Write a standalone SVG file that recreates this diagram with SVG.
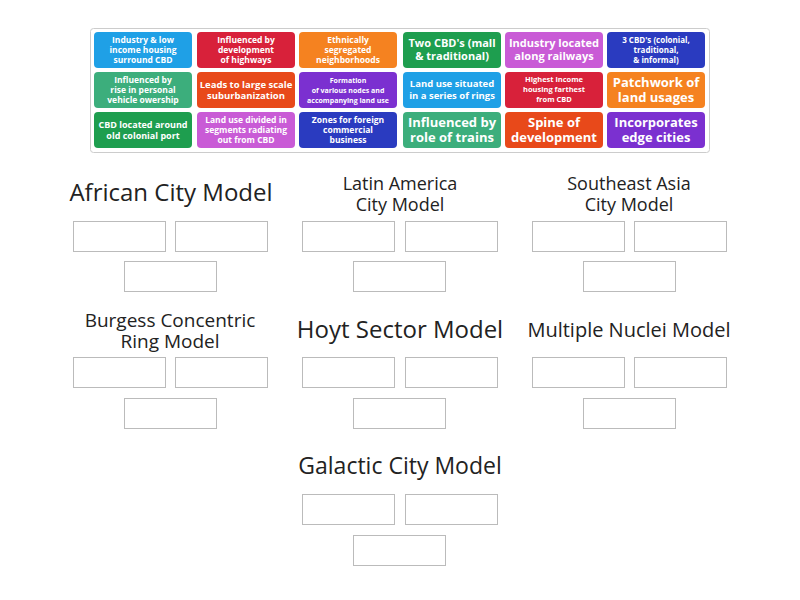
<svg xmlns="http://www.w3.org/2000/svg" width="800" height="600" viewBox="0 0 800 600">
<style>
.t rect{rx:4}
.t text{font-family:"Open Sans","Noto Sans",sans-serif;font-weight:bold;fill:#fff;text-anchor:middle}
.h{font-family:"Open Sans","Noto Sans",sans-serif;fill:#222;text-anchor:middle}
.z{fill:#fff;stroke:#bbb;stroke-width:1}
</style>
<rect width="800" height="600" fill="#fff"/>
<rect x="90.5" y="28.5" width="619" height="124" rx="3" fill="#fff" stroke="#ccc"/>
<g class="t">
<g id="t1"><rect x="94" y="32" width="98" height="36" fill="#1fa0e6"/><text font-size="8.5" x="143" y="43">Industry &amp; low</text><text font-size="8.5" x="143" y="53">income housing</text><text font-size="8.5" x="143" y="63">surround CBD</text></g>
<g id="t2"><rect x="197" y="32" width="98" height="36" fill="#d8213a"/><text font-size="8.5" x="246" y="43">Influenced by</text><text font-size="8.5" x="246" y="53">development</text><text font-size="8.5" x="246" y="63">of highways</text></g>
<g id="t3"><rect x="299" y="32" width="98" height="36" fill="#f58220"/><text font-size="8.5" x="348" y="43">Ethnically</text><text font-size="8.5" x="348" y="53">segregated</text><text font-size="8.5" x="348" y="63">neighborhoods</text></g>
<g id="t4"><rect x="403" y="32" width="98" height="36" fill="#1e9e4f"/><text font-size="11" x="452" y="47">Two CBD's (mall</text><text font-size="11" x="452" y="60">&amp; traditional)</text></g>
<g id="t5"><rect x="505" y="32" width="98" height="36" fill="#c95bd6"/><text font-size="11" x="554" y="47">Industry located</text><text font-size="11" x="554" y="60">along railways</text></g>
<g id="t6"><rect x="607" y="32" width="98" height="36" fill="#2a3bc0"/><text font-size="8" x="656" y="43">3 CBD's (colonial,</text><text font-size="8" x="656" y="53">traditional,</text><text font-size="8" x="656" y="63">&amp; informal)</text></g>
<g id="t7"><rect x="94" y="72" width="98" height="36" fill="#3cae7c"/><text font-size="8.5" x="143" y="83">Influenced by</text><text font-size="8.5" x="143" y="93">rise in personal</text><text font-size="8.5" x="143" y="103">vehicle owership</text></g>
<g id="t8"><rect x="197" y="72" width="98" height="36" fill="#e8491a"/><text font-size="9.5" x="246" y="88">Leads to large scale</text><text font-size="9.5" x="246" y="99">suburbanization</text></g>
<g id="t9"><rect x="299" y="72" width="98" height="36" fill="#7b30d0"/><text font-size="7" x="348" y="83">Formation</text><text font-size="7" x="348" y="93">of various nodes and</text><text font-size="7" x="348" y="103">accompanying land use</text></g>
<g id="t10"><rect x="403" y="72" width="98" height="36" fill="#1fa0e6"/><text font-size="9.5" x="452" y="87">Land use situated</text><text font-size="9.5" x="452" y="99">in a series of rings</text></g>
<g id="t11"><rect x="505" y="72" width="98" height="36" fill="#d8213a"/><text font-size="7.5" x="554" y="82">Highest income</text><text font-size="7.5" x="554" y="92">housing farthest</text><text font-size="7.5" x="554" y="102">from CBD</text></g>
<g id="t12"><rect x="607" y="72" width="98" height="36" fill="#f58220"/><text font-size="13" x="656" y="87">Patchwork of</text><text font-size="13" x="656" y="102">land usages</text></g>
<g id="t13"><rect x="94" y="112" width="98" height="36" fill="#1e9e4f"/><text font-size="9" x="143" y="128">CBD located around</text><text font-size="9" x="143" y="139">old colonial port</text></g>
<g id="t14"><rect x="197" y="112" width="98" height="36" fill="#c95bd6"/><text font-size="8.5" x="246" y="123">Land use divided in</text><text font-size="8.5" x="246" y="133">segments radiating</text><text font-size="8.5" x="246" y="143">out from CBD</text></g>
<g id="t15"><rect x="299" y="112" width="98" height="36" fill="#2a3bc0"/><text font-size="8.5" x="348" y="123">Zones for foreign</text><text font-size="8.5" x="348" y="133">commercial</text><text font-size="8.5" x="348" y="143">business</text></g>
<g id="t16"><rect x="403" y="112" width="98" height="36" fill="#3cae7c"/><text font-size="13" x="452" y="127">Influenced by</text><text font-size="13" x="452" y="142">role of trains</text></g>
<g id="t17"><rect x="505" y="112" width="98" height="36" fill="#e8491a"/><text font-size="13" x="554" y="127">Spine of</text><text font-size="13" x="554" y="142">development</text></g>
<g id="t18"><rect x="607" y="112" width="98" height="36" fill="#7b30d0"/><text font-size="13" x="656" y="127">Incorporates</text><text font-size="13" x="656" y="142">edge cities</text></g>
</g>
<g id="african"><text class="h" font-size="24" x="171" y="201">African City Model</text><rect class="z" x="73.5" y="221.5" width="92" height="30"/><rect class="z" x="175.5" y="221.5" width="92" height="30"/><rect class="z" x="124.5" y="261.5" width="92" height="30"/></g>
<g id="latin"><text class="h" font-size="18" x="400" y="190">Latin America</text><text class="h" font-size="18" x="400" y="211">City Model</text><rect class="z" x="302.5" y="221.5" width="92" height="30"/><rect class="z" x="405.5" y="221.5" width="92" height="30"/><rect class="z" x="353.5" y="261.5" width="92" height="30"/></g>
<g id="sea"><text class="h" font-size="18" x="629" y="190">Southeast Asia</text><text class="h" font-size="18" x="629" y="211">City Model</text><rect class="z" x="532.5" y="221.5" width="92" height="30"/><rect class="z" x="634.5" y="221.5" width="92" height="30"/><rect class="z" x="583.5" y="261.5" width="92" height="30"/></g>
<g id="burgess"><text class="h" font-size="19" x="170" y="327">Burgess Concentric</text><text class="h" font-size="19" x="170" y="348">Ring Model</text><rect class="z" x="73.5" y="357.5" width="92" height="30"/><rect class="z" x="175.5" y="357.5" width="92" height="30"/><rect class="z" x="124.5" y="398.5" width="92" height="30"/></g>
<g id="hoyt"><text class="h" font-size="24" x="400" y="338">Hoyt Sector Model</text><rect class="z" x="302.5" y="357.5" width="92" height="30"/><rect class="z" x="405.5" y="357.5" width="92" height="30"/><rect class="z" x="353.5" y="398.5" width="92" height="30"/></g>
<g id="multiple"><text class="h" font-size="20" x="629" y="337">Multiple Nuclei Model</text><rect class="z" x="532.5" y="357.5" width="92" height="30"/><rect class="z" x="634.5" y="357.5" width="92" height="30"/><rect class="z" x="583.5" y="398.5" width="92" height="30"/></g>
<g id="galactic"><text class="h" font-size="23" x="400" y="474">Galactic City Model</text><rect class="z" x="302.5" y="494.5" width="92" height="30"/><rect class="z" x="405.5" y="494.5" width="92" height="30"/><rect class="z" x="353.5" y="535.5" width="92" height="30"/></g>
<g id="connectors"/>
</svg>
